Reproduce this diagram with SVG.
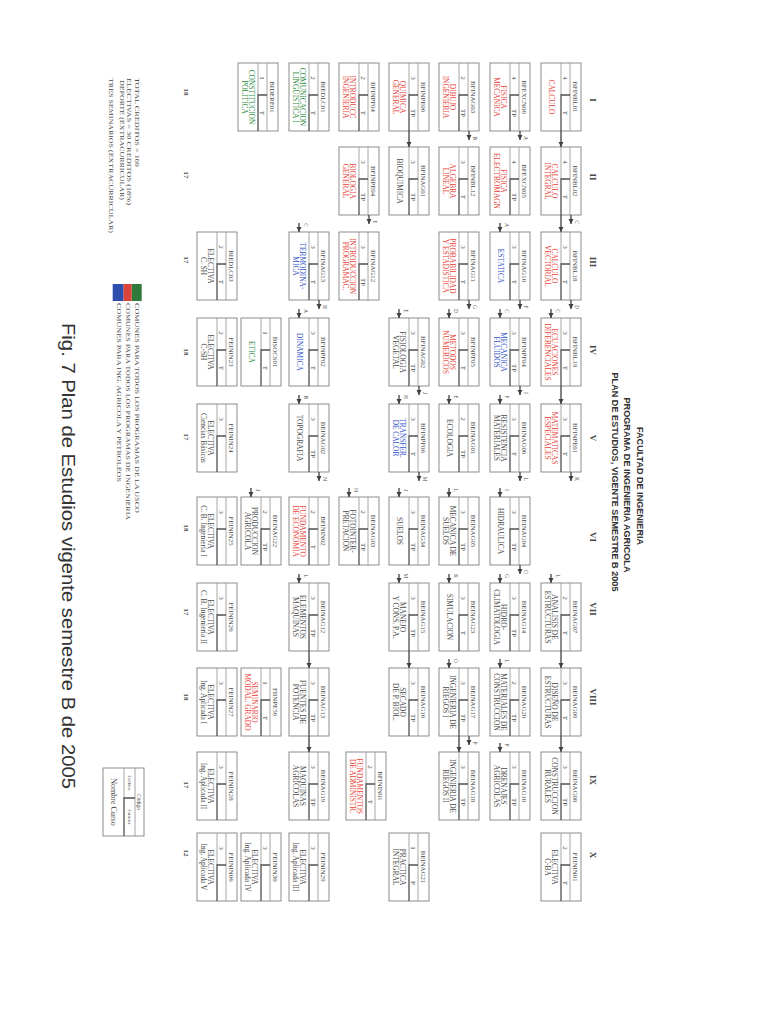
<svg xmlns="http://www.w3.org/2000/svg" xmlns:xlink="http://www.w3.org/1999/xlink" width="768" height="1024" viewBox="0 0 768 1024">
<style>
.bx{fill:#fff;stroke:#808080;stroke-width:0.9}
.ln{stroke:#909090;stroke-width:0.8;fill:none}
.dk{stroke:#505050;stroke-width:1.3;fill:none}
text{font-family:"Liberation Serif","Times New Roman",serif;fill:#4a4a4a}
.c{font-size:6.8px;text-anchor:middle}
.k{font-size:7px;text-anchor:middle}
.n{font-size:7.4px;text-anchor:middle}
.r{fill:#e8433b}
.b{fill:#3454c8}
.g{fill:#2b8a3c}
.cn{stroke:#404040;stroke-width:1.3;fill:none}
.lb{font-size:5.5px;text-anchor:middle}
.sem{font-size:9px;font-weight:bold;text-anchor:middle}
.cr{font-size:7px;font-weight:bold;text-anchor:middle}
.tt{font-family:"Liberation Sans",Arial,sans-serif;font-weight:bold;font-size:9.6px;text-anchor:middle;fill:#333}
.nt{font-size:6.3px}
</style>
<defs>
<marker id="ah" markerUnits="userSpaceOnUse" markerWidth="6" markerHeight="6" refX="5" refY="2.5" orient="auto"><path d="M0,0L5,2.5L0,5z" fill="#404040"/></marker>
<g id="fr"><rect width="68" height="40" class="bx"/><path d="M0,11H68M0,20H32" class="ln"/><path d="M32,11V20H68" class="dk"/></g>
</defs>
<rect width="768" height="1024" fill="#fff"/>
<g transform="translate(768,0) rotate(90)">
<g id="title">
<text class="tt" x="486" y="131" textLength="118" lengthAdjust="spacingAndGlyphs">FACULTAD DE INGENIERIA</text>
<text class="tt" x="485" y="144" textLength="175" lengthAdjust="spacingAndGlyphs">PROGRAMA DE INGENIERIA AGRICOLA</text>
<text class="tt" x="482" y="156" textLength="219" lengthAdjust="spacingAndGlyphs">PLAN DE ESTUDIOS, VIGENTE SEMESTRE B 2005</text>
</g>
<g id="semesters">
<text class="sem" x="100" y="178">I</text>
<text class="sem" x="177" y="178">II</text>
<text class="sem" x="262" y="178">III</text>
<text class="sem" x="350" y="178">IV</text>
<text class="sem" x="438" y="178">V</text>
<text class="sem" x="537" y="178">VI</text>
<text class="sem" x="609" y="178">VII</text>
<text class="sem" x="697" y="178">VIII</text>
<text class="sem" x="780" y="178">IX</text>
<text class="sem" x="855" y="178">X</text>
</g>
<g id="credits">
<text class="cr" x="92" y="584">18</text>
<text class="cr" x="175" y="584">17</text>
<text class="cr" x="260" y="584">17</text>
<text class="cr" x="352" y="584">18</text>
<text class="cr" x="437" y="584">17</text>
<text class="cr" x="528" y="584">18</text>
<text class="cr" x="612" y="584">17</text>
<text class="cr" x="697" y="584">18</text>
<text class="cr" x="785" y="584">17</text>
<text class="cr" x="853" y="584">12</text>
</g>

<!-- Column I -->
<g id="n-bfinbl01" transform="translate(63,187)"><use xlink:href="#fr"/><text class="c" x="34" y="8.2">BFINBL01</text><text class="k" x="15" y="17.8">4</text><text class="k" x="50" y="17.8">T</text><text class="n r" x="34" y="32">CALCULO</text></g>
<g id="n-bfexcn06" transform="translate(63,238)"><use xlink:href="#fr"/><text class="c" x="34" y="8.2">BFEXCN06</text><text class="k" x="15" y="17.8">4</text><text class="k" x="50" y="17.8">TP</text><text class="n r" x="34" y="29">FISICA</text><text class="n r" x="34" y="36.5">MECANICA</text></g>
<g id="n-bfinag03" transform="translate(63,289)"><use xlink:href="#fr"/><text class="c" x="34" y="8.2">BFINAG03</text><text class="k" x="15" y="17.8">2</text><text class="k" x="50" y="17.8">TP</text><text class="n r" x="34" y="29">DIBUJO</text><text class="n r" x="34" y="36.5">INGENIERIA</text></g>
<g id="n-bfinpe06" transform="translate(63,339)"><use xlink:href="#fr"/><text class="c" x="34" y="8.2">BFINPE06</text><text class="k" x="15" y="17.8">3</text><text class="k" x="50" y="17.8">TP</text><text class="n r" x="34" y="29">QUIMICA</text><text class="n r" x="34" y="36.5">GENERAL</text></g>
<g id="n-bfinpf04a" transform="translate(63,389)"><use xlink:href="#fr"/><text class="c" x="34" y="8.2">BFINPF04</text><text class="k" x="15" y="17.8">2</text><text class="k" x="50" y="17.8">T</text><text class="n r" x="34" y="29">INTRODUCC</text><text class="n r" x="34" y="36.5">INGENIERIA</text></g>
<g id="n-biedlc01" transform="translate(63,439)"><use xlink:href="#fr"/><text class="c" x="34" y="8.2">BIEDLC01</text><text class="k" x="15" y="17.8">2</text><text class="k" x="50" y="17.8">T</text><text class="n g" x="34" y="29">COMUNICACION</text><text class="n g" x="34" y="36.5">LINGÜISTICA I</text></g>
<g id="n-bidere01" transform="translate(63,490)"><use xlink:href="#fr"/><text class="c" x="34" y="8.2">BIDERE01</text><text class="k" x="15" y="17.8">1</text><text class="k" x="50" y="17.8">T</text><text class="n g" x="34" y="29">CONSTITUCION</text><text class="n g" x="34" y="36.5">POLITICA</text></g>

<!-- Column II -->
<g id="n-bfinbl02" transform="translate(147,187)"><use xlink:href="#fr"/><text class="c" x="34" y="8.2">BFINBL02</text><text class="k" x="15" y="17.8">4</text><text class="k" x="50" y="17.8">T</text><text class="n r" x="34" y="29">CALCULO</text><text class="n r" x="34" y="36.5">INTEGRAL</text></g>
<g id="n-bfexcn05" transform="translate(147,238)"><use xlink:href="#fr"/><text class="c" x="34" y="8.2">BFEXCN05</text><text class="k" x="15" y="17.8">4</text><text class="k" x="50" y="17.8">TP</text><text class="n r" x="34" y="29">FISICA</text><text class="n r" x="34" y="36.5">ELECTROMAGN</text></g>
<g id="n-bfinbl12" transform="translate(147,289)"><use xlink:href="#fr"/><text class="c" x="34" y="8.2">BFINBL12</text><text class="k" x="15" y="17.8">3</text><text class="k" x="50" y="17.8">T</text><text class="n r" x="34" y="29">ALGEBRA</text><text class="n r" x="34" y="36.5">LINEAL</text></g>
<g id="n-bfinag01" transform="translate(147,339)"><use xlink:href="#fr"/><text class="c" x="34" y="8.2">BFINAG01</text><text class="k" x="15" y="17.8">3</text><text class="k" x="50" y="17.8">TP</text><text class="n" x="34" y="32">BIOQUIMICA</text></g>
<g id="n-bfinpe04" transform="translate(147,389)"><use xlink:href="#fr"/><text class="c" x="34" y="8.2">BFINPE04</text><text class="k" x="15" y="17.8">3</text><text class="k" x="50" y="17.8">TP</text><text class="n r" x="34" y="29">BIOLOGIA</text><text class="n r" x="34" y="36.5">GENERAL</text></g>

<!-- Column III -->
<g id="n-bfinbl18" transform="translate(232,187)"><use xlink:href="#fr"/><text class="c" x="34" y="8.2">BFINBL18</text><text class="k" x="15" y="17.8">3</text><text class="k" x="50" y="17.8">T</text><text class="n r" x="34" y="29">CALCULO</text><text class="n r" x="34" y="36.5">VECTORIAL</text></g>
<g id="n-bfinag10" transform="translate(232,238)"><use xlink:href="#fr"/><text class="c" x="34" y="8.2">BFINAG10</text><text class="k" x="15" y="17.8">3</text><text class="k" x="50" y="17.8">T</text><text class="n b" x="34" y="32">ESTATICA</text></g>
<g id="n-bfinag11" transform="translate(232,289)"><use xlink:href="#fr"/><text class="c" x="34" y="8.2">BFINAG11</text><text class="k" x="15" y="17.8">3</text><text class="k" x="50" y="17.8">T</text><text class="n r" x="34" y="29">PROBABILIDAD</text><text class="n r" x="34" y="36.5">Y ESTADISTICA</text></g>
<g id="n-bfinag12" transform="translate(232,389)"><use xlink:href="#fr"/><text class="c" x="34" y="8.2">BFINAG12</text><text class="k" x="15" y="17.8">3</text><text class="k" x="50" y="17.8">TP</text><text class="n r" x="34" y="29">INTRODUCCION</text><text class="n r" x="34" y="36.5">PROGRAMAC.</text></g>
<g id="n-bfinag13" transform="translate(232,439)"><use xlink:href="#fr"/><text class="c" x="34" y="8.2">BFINAG13</text><text class="k" x="15" y="17.8">3</text><text class="k" x="50" y="17.8">T</text><text class="n b" x="34" y="29">TERMODINA-</text><text class="n b" x="34" y="36.5">MICA</text></g>
<g id="n-biedlc03" transform="translate(232,531)"><use xlink:href="#fr"/><text class="c" x="34" y="8.2">BIEDLC03</text><text class="k" x="15" y="17.8">2</text><text class="k" x="50" y="17.8">T</text><text class="n" x="34" y="29">ELECTIVA</text><text class="n" x="34" y="36.5">C. SH</text></g>

<!-- Column IV -->
<g id="n-bfinbl19" transform="translate(318,187)"><use xlink:href="#fr"/><text class="c" x="34" y="8.2">BFINBL19</text><text class="k" x="15" y="17.8">3</text><text class="k" x="50" y="17.8">T</text><text class="n r" x="34" y="29">ECUACIONES</text><text class="n r" x="34" y="36.5">DIFERENCIALES</text></g>
<g id="n-bfinpf04" transform="translate(318,238)"><use xlink:href="#fr"/><text class="c" x="34" y="8.2">BFINPF04</text><text class="k" x="15" y="17.8">3</text><text class="k" x="50" y="17.8">TP</text><text class="n b" x="34" y="29">MECANICA</text><text class="n b" x="34" y="36.5">FLUIDOS</text></g>
<g id="n-bfinpf05" transform="translate(318,289)"><use xlink:href="#fr"/><text class="c" x="34" y="8.2">BFINPF05</text><text class="k" x="15" y="17.8">3</text><text class="k" x="50" y="17.8">T</text><text class="n r" x="34" y="29">METODOS</text><text class="n r" x="34" y="36.5">NUMERICOS</text></g>
<g id="n-bfinag02" transform="translate(318,339)"><use xlink:href="#fr"/><text class="c" x="34" y="8.2">BFINAG02</text><text class="k" x="15" y="17.8">3</text><text class="k" x="50" y="17.8">TP</text><text class="n" x="34" y="29">FISIOLOGIA</text><text class="n" x="34" y="36.5">VEGETAL</text></g>
<g id="n-bfinpf02" transform="translate(318,439)"><use xlink:href="#fr"/><text class="c" x="34" y="8.2">BFINPF02</text><text class="k" x="15" y="17.8">3</text><text class="k" x="50" y="17.8">T</text><text class="n b" x="34" y="32">DINAMICA</text></g>
<g id="n-bisocs01" transform="translate(318,487)"><use xlink:href="#fr"/><text class="c" x="34" y="8.2">BISOCS01</text><text class="k" x="15" y="17.8">1</text><text class="k" x="50" y="17.8">T</text><text class="n g" x="34" y="32">ETICA</text></g>
<g id="n-feinin23" transform="translate(318,531)"><use xlink:href="#fr"/><text class="c" x="34" y="8.2">FEININ23</text><text class="k" x="15" y="17.8">2</text><text class="k" x="50" y="17.8">T</text><text class="n" x="34" y="29">ELECTIVA</text><text class="n" x="34" y="36.5">C-SH</text></g>

<!-- Column V -->
<g id="n-bfinpe01" transform="translate(404,187)"><use xlink:href="#fr"/><text class="c" x="34" y="8.2">BFINPE01</text><text class="k" x="15" y="17.8">3</text><text class="k" x="50" y="17.8">T</text><text class="n r" x="34" y="29">MATEMATICAS</text><text class="n r" x="34" y="36.5">ESPECIALES</text></g>
<g id="n-beinag06" transform="translate(404,238)"><use xlink:href="#fr"/><text class="c" x="34" y="8.2">BEINAG06</text><text class="k" x="15" y="17.8">3</text><text class="k" x="50" y="17.8">T</text><text class="n" x="34" y="29">RESISTENCIA</text><text class="n" x="34" y="36.5">MATERIALES</text></g>
<g id="n-beinag01" transform="translate(404,289)"><use xlink:href="#fr"/><text class="c" x="34" y="8.2">BEINAG01</text><text class="k" x="15" y="17.8">2</text><text class="k" x="50" y="17.8">TP</text><text class="n" x="34" y="32">ECOLOGIA</text></g>
<g id="n-bfinpf06" transform="translate(404,339)"><use xlink:href="#fr"/><text class="c" x="34" y="8.2">BFINPF06</text><text class="k" x="15" y="17.8">3</text><text class="k" x="50" y="17.8">T</text><text class="n b" x="34" y="29">TRANSFER.</text><text class="n b" x="34" y="36.5">DE CALOR</text></g>
<g id="n-beinag02" transform="translate(404,439)"><use xlink:href="#fr"/><text class="c" x="34" y="8.2">BEINAG02</text><text class="k" x="15" y="17.8">3</text><text class="k" x="50" y="17.8">TP</text><text class="n" x="34" y="32">TOPOGRAFIA</text></g>
<g id="n-feinin24" transform="translate(404,531)"><use xlink:href="#fr"/><text class="c" x="34" y="8.2">FEININ24</text><text class="k" x="15" y="17.8">3</text><text class="n" x="34" y="29">ELECTIVA</text><text class="n" x="34" y="36.5">Ciencias Básicas</text></g>

<!-- Column VI -->
<g id="n-beinag04" transform="translate(497,238)"><use xlink:href="#fr"/><text class="c" x="34" y="8.2">BEINAG04</text><text class="k" x="15" y="17.8">3</text><text class="k" x="50" y="17.8">TP</text><text class="n" x="34" y="32">HIDRAULICA</text></g>
<g id="n-beinag05" transform="translate(497,289)"><use xlink:href="#fr"/><text class="c" x="34" y="8.2">BEINAG05</text><text class="k" x="15" y="17.8">3</text><text class="k" x="50" y="17.8">TP</text><text class="n" x="34" y="29">MECANICA DE</text><text class="n" x="34" y="36.5">SUELOS</text></g>
<g id="n-beinag34" transform="translate(497,339)"><use xlink:href="#fr"/><text class="c" x="34" y="8.2">BEINAG34</text><text class="k" x="15" y="17.8">3</text><text class="k" x="50" y="17.8">TP</text><text class="n" x="34" y="32">SUELOS</text></g>
<g id="n-beinag03" transform="translate(497,389)"><use xlink:href="#fr"/><text class="c" x="34" y="8.2">BEINAG03</text><text class="k" x="15" y="17.8">2</text><text class="k" x="50" y="17.8">TP</text><text class="n" x="34" y="29">FOTOINTER-</text><text class="n" x="34" y="36.5">PRETACION</text></g>
<g id="n-bfinin02" transform="translate(497,439)"><use xlink:href="#fr"/><text class="c" x="34" y="8.2">BFININ02</text><text class="k" x="15" y="17.8">2</text><text class="k" x="50" y="17.8">T</text><text class="n r" x="34" y="29">FUNDAMENTO</text><text class="n r" x="34" y="36.5">DE ECONOMIA</text></g>
<g id="n-beinag22" transform="translate(497,487)"><use xlink:href="#fr"/><text class="c" x="34" y="8.2">BEINAG22</text><text class="k" x="15" y="17.8">2</text><text class="k" x="50" y="17.8">TP</text><text class="n" x="34" y="29">PRODUCCION</text><text class="n" x="34" y="36.5">AGRICOLA</text></g>
<g id="n-feinin25" transform="translate(497,531)"><use xlink:href="#fr"/><text class="c" x="34" y="8.2">FEININ25</text><text class="k" x="15" y="17.8">3</text><text class="n" x="34" y="29">ELECTIVA</text><text class="n" x="34" y="36.5">C. B. Ingeniería I</text></g>

<!-- Column VII -->
<g id="n-beinag07" transform="translate(583,187)"><use xlink:href="#fr"/><text class="c" x="34" y="8.2">BEINAG07</text><text class="k" x="15" y="17.8">2</text><text class="k" x="50" y="17.8">T</text><text class="n" x="34" y="29">ANALISIS DE</text><text class="n" x="34" y="36.5">ESTRUCTURAS</text></g>
<g id="n-beinag14" transform="translate(583,238)"><use xlink:href="#fr"/><text class="c" x="34" y="8.2">BEINAG14</text><text class="k" x="15" y="17.8">3</text><text class="k" x="50" y="17.8">TP</text><text class="n" x="34" y="29">HIDRO-</text><text class="n" x="34" y="36.5">CLIMATOLOGIA</text></g>
<g id="n-beinag23" transform="translate(583,289)"><use xlink:href="#fr"/><text class="c" x="34" y="8.2">BEINAG23</text><text class="k" x="15" y="17.8">3</text><text class="k" x="50" y="17.8">T</text><text class="n" x="34" y="32">SIMULACION</text></g>
<g id="n-beinag15" transform="translate(583,339)"><use xlink:href="#fr"/><text class="c" x="34" y="8.2">BEINAG15</text><text class="k" x="15" y="17.8">3</text><text class="k" x="50" y="17.8">TP</text><text class="n" x="34" y="29">MANEJO</text><text class="n" x="34" y="36.5">Y CONS. P.A.</text></g>
<g id="n-beinag12" transform="translate(583,439)"><use xlink:href="#fr"/><text class="c" x="34" y="8.2">BEINAG12</text><text class="k" x="15" y="17.8">3</text><text class="k" x="50" y="17.8">TP</text><text class="n" x="34" y="29">ELEMENTOS</text><text class="n" x="34" y="36.5">MAQUINAS</text></g>
<g id="n-feinin26" transform="translate(583,531)"><use xlink:href="#fr"/><text class="c" x="34" y="8.2">FEININ26</text><text class="k" x="15" y="17.8">3</text><text class="n" x="34" y="29">ELECTIVA</text><text class="n" x="34" y="36.5">C. B. Ingeniería II</text></g>

<!-- Column VIII -->
<g id="n-beinag09" transform="translate(668,187)"><use xlink:href="#fr"/><text class="c" x="34" y="8.2">BEINAG09</text><text class="k" x="15" y="17.8">3</text><text class="k" x="50" y="17.8">T</text><text class="n" x="34" y="29">DISEÑO DE</text><text class="n" x="34" y="36.5">ESTRUCTURAS</text></g>
<g id="n-beinag20" transform="translate(668,238)"><use xlink:href="#fr"/><text class="c" x="34" y="8.2">BEINAG20</text><text class="k" x="15" y="17.8">2</text><text class="k" x="50" y="17.8">TP</text><text class="n" x="34" y="29">MATERIALES DE</text><text class="n" x="34" y="36.5">CONSTRUCCION</text></g>
<g id="n-beinag17" transform="translate(668,289)"><use xlink:href="#fr"/><text class="c" x="34" y="8.2">BEINAG17</text><text class="k" x="15" y="17.8">3</text><text class="k" x="50" y="17.8">TP</text><text class="n" x="34" y="29">INGENIERIA DE</text><text class="n" x="34" y="36.5">RIEGOS I</text></g>
<g id="n-beinag16" transform="translate(668,339)"><use xlink:href="#fr"/><text class="c" x="34" y="8.2">BEINAG16</text><text class="k" x="15" y="17.8">3</text><text class="k" x="50" y="17.8">TP</text><text class="n" x="34" y="29">SECADO</text><text class="n" x="34" y="36.5">DE P. BIOL.</text></g>
<g id="n-beinag13" transform="translate(668,439)"><use xlink:href="#fr"/><text class="c" x="34" y="8.2">BEINAG13</text><text class="k" x="15" y="17.8">3</text><text class="k" x="50" y="17.8">TP</text><text class="n" x="34" y="29">FUENTES DE</text><text class="n" x="34" y="36.5">POTENCIA</text></g>
<g id="n-fiinpe56" transform="translate(668,487)"><use xlink:href="#fr"/><text class="c" x="34" y="8.2">FIINPE56</text><text class="k" x="15" y="17.8">1</text><text class="k" x="50" y="17.8">T</text><text class="n r" x="34" y="29">SEMINARIO</text><text class="n r" x="34" y="36.5">MODAL. GRADO</text></g>
<g id="n-feinin27" transform="translate(668,531)"><use xlink:href="#fr"/><text class="c" x="34" y="8.2">FEININ27</text><text class="k" x="15" y="17.8">3</text><text class="n" x="34" y="29">ELECTIVA</text><text class="n" x="34" y="36.5">Ing. Aplicada I</text></g>

<!-- Column IX -->
<g id="n-beinag08" transform="translate(752,187)"><use xlink:href="#fr"/><text class="c" x="34" y="8.2">BEINAG08</text><text class="k" x="15" y="17.8">3</text><text class="k" x="50" y="17.8">TP</text><text class="n" x="34" y="29">CONSTRUCCION</text><text class="n" x="34" y="36.5">RURALES</text></g>
<g id="n-beinag10" transform="translate(752,238)"><use xlink:href="#fr"/><text class="c" x="34" y="8.2">BEINAG10</text><text class="k" x="15" y="17.8">3</text><text class="k" x="50" y="17.8">TP</text><text class="n" x="34" y="29">DRENAJES</text><text class="n" x="34" y="36.5">AGRICOLAS</text></g>
<g id="n-beinag18" transform="translate(752,289)"><use xlink:href="#fr"/><text class="c" x="34" y="8.2">BEINAG18</text><text class="k" x="15" y="17.8">3</text><text class="k" x="50" y="17.8">TP</text><text class="n" x="34" y="29">INGENIERIA DE</text><text class="n" x="34" y="36.5">RIEGOS II</text></g>
<g id="n-bfinin01" transform="translate(752,382)"><use xlink:href="#fr"/><text class="c" x="34" y="8.2">BFININ01</text><text class="k" x="15" y="17.8">2</text><text class="k" x="50" y="17.8">T</text><text class="n r" x="34" y="29">FUNDAMENTOS</text><text class="n r" x="34" y="36.5">DE ADMINISTR.</text></g>
<g id="n-beinag19" transform="translate(752,439)"><use xlink:href="#fr"/><text class="c" x="34" y="8.2">BEINAG19</text><text class="k" x="15" y="17.8">3</text><text class="k" x="50" y="17.8">TP</text><text class="n" x="34" y="29">MAQUINAS</text><text class="n" x="34" y="36.5">AGRICOLAS</text></g>
<g id="n-feinin28" transform="translate(752,531)"><use xlink:href="#fr"/><text class="c" x="34" y="8.2">FEININ28</text><text class="k" x="15" y="17.8">3</text><text class="n" x="34" y="29">ELECTIVA</text><text class="n" x="34" y="36.5">Ing. Aplicada II</text></g>

<!-- Column X -->
<g id="n-feinin01" transform="translate(833,187)"><use xlink:href="#fr"/><text class="c" x="34" y="8.2">FEININ01</text><text class="k" x="15" y="17.8">2</text><text class="k" x="50" y="17.8">T</text><text class="n" x="34" y="29">ELECTIVA</text><text class="n" x="34" y="36.5">C-BA</text></g>
<g id="n-beinag21" transform="translate(833,339)"><use xlink:href="#fr"/><text class="c" x="34" y="8.2">BEINAG21</text><text class="k" x="15" y="17.8">1</text><text class="k" x="50" y="17.8">P</text><text class="n" x="34" y="29">PRACTICA</text><text class="n" x="34" y="36.5">INTEGRAL</text></g>
<g id="n-feinin29" transform="translate(833,439)"><use xlink:href="#fr"/><text class="c" x="34" y="8.2">FEININ29</text><text class="k" x="15" y="17.8">3</text><text class="n" x="34" y="29">ELECTIVA</text><text class="n" x="34" y="36.5">Ing. Aplicada III</text></g>
<g id="n-feinin30" transform="translate(833,487)"><use xlink:href="#fr"/><text class="c" x="34" y="8.2">FEININ30</text><text class="k" x="15" y="17.8">3</text><text class="n" x="34" y="29">ELECTIVA</text><text class="n" x="34" y="36.5">Ing. Aplicada IV</text></g>
<g id="n-feinin06" transform="translate(833,531)"><use xlink:href="#fr"/><text class="c" x="34" y="8.2">FEININ06</text><text class="k" x="15" y="17.8">3</text><text class="n" x="34" y="29">ELECTIVA</text><text class="n" x="34" y="36.5">Ing. Aplicada V</text></g>

<!-- Legend key box -->
<g id="n-key" transform="translate(768,624)">
<rect width="68" height="41" class="bx"/><path d="M0,9H68M0,20H30" class="ln"/><path d="M30,9V20H68" class="dk"/>
<text class="c" x="34" y="7" style="font-size:5.5px">Código</text>
<text class="c" x="15" y="16.5" style="font-size:4.5px">Créditos</text>
<text class="c" x="49" y="16.5" style="font-size:4.5px">Carácter</text>
<text class="n" x="34" y="33" style="font-size:8px">Nombre Curso</text>
</g>

<!-- Connectors -->
<g id="connectors">
<g class="cn" marker-end="url(#ah)">
<path d="M131,207H147"/><path d="M215,207H232"/><path d="M131,359H147"/><path d="M386,207H404"/>
<path d="M651,207H668"/><path d="M736,207H752"/><path d="M651,359H668"/><path d="M736,309H752"/>
<path d="M651,459H668"/><path d="M736,459H752"/>
<path d="M131,248H140"/><path d="M131,299H140"/><path d="M215,197H224"/><path d="M215,399H224"/>
<path d="M300,197H309"/><path d="M300,248H309"/><path d="M300,299H309"/><path d="M300,449H309"/>
<path d="M386,248H395"/><path d="M386,349H395"/><path d="M472,197H481"/><path d="M472,248H481"/>
<path d="M472,349H481"/><path d="M472,449H481"/><path d="M565,248H574"/><path d="M736,299H745"/>
<path d="M223,268H232"/><path d="M223,469H232"/><path d="M309,217H318"/><path d="M309,268H318"/>
<path d="M309,319H318"/><path d="M309,369H318"/><path d="M309,469H318"/><path d="M395,268H404"/>
<path d="M395,319H404"/><path d="M395,369H404"/><path d="M395,469H404"/><path d="M488,268H497"/>
<path d="M488,319H497"/><path d="M488,369H497"/><path d="M488,419H497"/><path d="M488,517H497"/>
<path d="M574,217H583"/><path d="M574,268H583"/><path d="M574,319H583"/><path d="M574,369H583"/>
<path d="M574,469H583"/><path d="M659,268H668"/><path d="M659,319H668"/><path d="M743,268H752"/>
</g>
<g id="connector-labels">
<text class="lb" x="138" y="244">A</text><text class="lb" x="138" y="295">B</text><text class="lb" x="222" y="193">C</text><text class="lb" x="222" y="395">E</text>
<text class="lb" x="307" y="193">D</text><text class="lb" x="307" y="244">F</text><text class="lb" x="307" y="295">G</text><text class="lb" x="307" y="445">H</text>
<text class="lb" x="393" y="244">I</text><text class="lb" x="393" y="345">J</text><text class="lb" x="479" y="193">K</text><text class="lb" x="479" y="244">L</text>
<text class="lb" x="479" y="345">M</text><text class="lb" x="479" y="445">N</text><text class="lb" x="572" y="244">O</text><text class="lb" x="743" y="295">P</text>
<text class="lb" x="225" y="263">A</text><text class="lb" x="225" y="464">C</text><text class="lb" x="311" y="212">C</text><text class="lb" x="311" y="263">C</text>
<text class="lb" x="311" y="314">D</text><text class="lb" x="311" y="364">E</text><text class="lb" x="311" y="464">A</text><text class="lb" x="397" y="263">F</text>
<text class="lb" x="397" y="314">E</text><text class="lb" x="397" y="364">H</text><text class="lb" x="397" y="464">B</text><text class="lb" x="490" y="263">I</text>
<text class="lb" x="490" y="314">L</text><text class="lb" x="490" y="364">J</text><text class="lb" x="490" y="414">N</text><text class="lb" x="490" y="512">J</text>
<text class="lb" x="576" y="212">L</text><text class="lb" x="576" y="263">G</text><text class="lb" x="576" y="314">K</text><text class="lb" x="576" y="364">M</text>
<text class="lb" x="576" y="464">L</text><text class="lb" x="661" y="263">L</text><text class="lb" x="661" y="314">O</text><text class="lb" x="745" y="263">P</text>
</g>
</g>

<g id="notes">
<text class="nt" x="78" y="633" textLength="89" lengthAdjust="spacingAndGlyphs">TOTAL CREDITOS = 169</text>
<text class="nt" x="78" y="641" textLength="127" lengthAdjust="spacingAndGlyphs">ELECTIVAS = 30 CREDITOS (18%)</text>
<text class="nt" x="80" y="648.5" textLength="120" lengthAdjust="spacingAndGlyphs">DEPORTE (EXTRACURRICULAR)</text>
<text class="nt" x="78" y="659.5" textLength="155" lengthAdjust="spacingAndGlyphs">TRES SEMINARIOS (EXTRACURRICULAR)</text>
</g>
<g id="color-legend">
<rect x="284" y="626.3" width="17" height="10" fill="#2f7a3a"/>
<rect x="284" y="636.3" width="17" height="8.4" fill="#d9453b"/>
<rect x="284" y="644.7" width="17" height="10.6" fill="#2f4fb0"/>
<text class="nt" x="303" y="633" textLength="210" lengthAdjust="spacingAndGlyphs">COMUNES PARA TODOS LOS PROGRAMAS DE LA USCO</text>
<text class="nt" x="303" y="642" textLength="217" lengthAdjust="spacingAndGlyphs">COMUNES PARA TODOS LOS PROGRAMAS DE INGENIERIA</text>
<text class="nt" x="303" y="651" textLength="179" lengthAdjust="spacingAndGlyphs">COMUNES PARA ING. AGRICOLA Y PETROLEOS</text>
</g>
<text id="caption" x="556" y="706" text-anchor="middle" textLength="466" lengthAdjust="spacingAndGlyphs" style="font-family:'Liberation Sans',Arial,sans-serif;font-size:19px;fill:#333">Fig. 7 Plan de Estudios vigente semestre B de 2005</text>
</g>
</svg>
